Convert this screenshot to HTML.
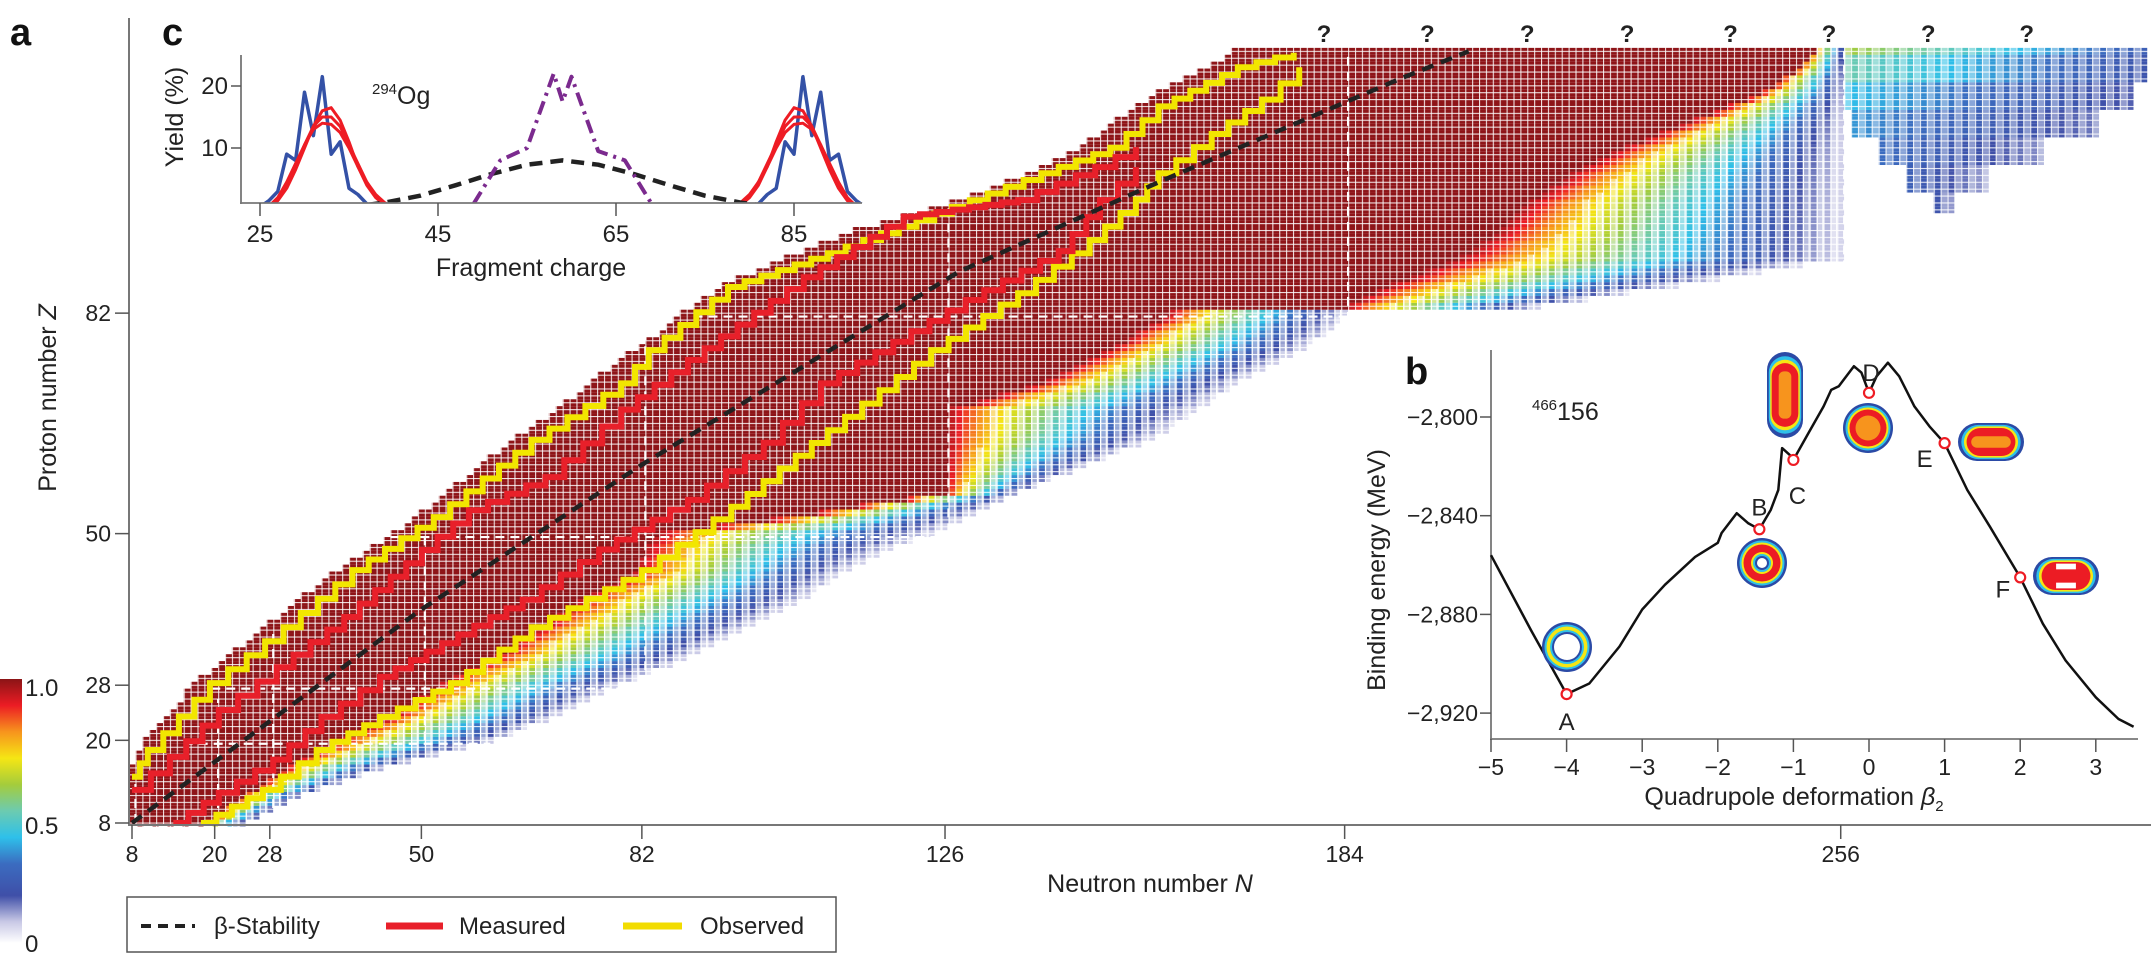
<!DOCTYPE html>
<html><head><meta charset="utf-8">
<style>
html,body{margin:0;padding:0;background:#fff;}
svg{display:block;font-family:"Liberation Sans",sans-serif;}
</style></head>
<body>
<svg id="fig" width="2151" height="959" viewBox="0 0 2151 959" xmlns="http://www.w3.org/2000/svg">
<defs>
  <linearGradient id="cbar" x1="0" y1="1" x2="0" y2="0">
    <stop offset="0" stop-color="#ffffff"/><stop offset="0.08" stop-color="#c9c9e6"/>
    <stop offset="0.18" stop-color="#3f4fa8"/><stop offset="0.3" stop-color="#3b6cc0"/>
    <stop offset="0.4" stop-color="#2ec0ea"/><stop offset="0.5" stop-color="#6ccbb0"/>
    <stop offset="0.6" stop-color="#a4cc3c"/><stop offset="0.7" stop-color="#f5e614"/>
    <stop offset="0.8" stop-color="#f7941d"/><stop offset="0.9" stop-color="#ec1c24"/>
    <stop offset="1" stop-color="#8b1416"/>
  </linearGradient>
  <pattern id="grid" patternUnits="userSpaceOnUse" x="128.555" y="2.6" width="6.89" height="6.89">
    <rect x="0" y="0" width="6.89" height="1.1" fill="#fff" opacity="0.85"/>
    <rect x="0" y="0" width="1.1" height="6.89" fill="#fff" opacity="0.85"/>
  </pattern>
  <clipPath id="cclip"><rect x="241" y="40" width="640" height="163"/></clipPath>
</defs>
<g id="heat"></g>
<rect x="128" y="40" width="2023" height="788" fill="url(#grid)"/>
<g id="magic"></g>
<g id="mainlines"></g>
<g id="mainaxes"></g>
<g id="insetc"></g>
<g id="insetb"></g>
<g>
  <rect x="0" y="679" width="22" height="264" fill="url(#cbar)"/>
  <text x="25" y="696" font-size="24" fill="#222">1.0</text>
  <text x="25" y="834" font-size="24" fill="#222">0.5</text>
  <text x="25" y="952" font-size="24" fill="#222">0</text>
</g>
<g>
  <rect x="127" y="897" width="709" height="55" fill="#fff" stroke="#555" stroke-width="1.5"/>
  <line x1="141" y1="926" x2="195" y2="926" stroke="#222" stroke-width="4" stroke-dasharray="10 7"/>
  <text x="214" y="934" font-size="24" fill="#222">β-Stability</text>
  <line x1="386" y1="926" x2="443" y2="926" stroke="#e8202a" stroke-width="7"/>
  <text x="459" y="934" font-size="24" fill="#222">Measured</text>
  <line x1="623" y1="926" x2="682" y2="926" stroke="#f2dc00" stroke-width="7"/>
  <text x="700" y="934" font-size="24" fill="#222">Observed</text>
</g>
<text x="10" y="45" font-size="38" font-weight="bold" fill="#111">a</text>
<text x="162" y="45" font-size="38" font-weight="bold" fill="#111">c</text>
<text x="1405" y="384" font-size="38" font-weight="bold" fill="#111">b</text>
</svg>
<script>
// ---------- main chart data ----------
const zKnots  = [8,12,16,20,24,28,32,36,40,44,48,50,52,56,60,64,68,72,76,80,82,83,86,90,94,98,102,106,110,114,118,120];
const nStart  = [8,8,8,10,14,17,22,27,32,37,43,46,49,54,59,64,70,75,80,86,88,90,94,103,113,127,138,146,151,157,165,168];
const nRedEnd = [18,24,30,38,46,52,60,66,72,80,82,84,100,126,126,126,126,140,148,155,158,184,190,200,206,210,216,224,234,244,250,252];
const nEnd    = [24,32,44,60,70,78,88,96,104,110,118,124,128,136,146,156,162,168,176,182,184,212,232,256,256,256,256,256,256,256,256,256];
// blue superheavy island beyond N=256
const blueZ     = [97,100,104,108,112,116,120];
const blueStart = [270,266,262,258,257,257,257];
const blueEnd   = [272,277,285,293,298,300,300];
const blueVmax  = [0.2,0.25,0.3,0.35,0.4,0.5,0.6];
// beta stability line
const betaN = [8,50,82,128,157,192,202];
const betaZ = [8,39,60,88,101,116,120];
// measured (red) boundaries
const measLeftN  = [8,13.5,20.6,29,38.8,47.8,56.9,68,79,88.7,105.5,120,136.6,147.8,153.7];
const measLeftZ  = [12.8,17.6,24.4,30.6,37.9,45.7,53.4,58.2,68,75.2,87.2,96,98.4,103.2,106.1];
const measRightN = [14,20.6,28.5,35.5,44,53,64.7,75.8,88.7,99.7,108,129,142.5,148.5,153.7];
const measRightZ = [8,12.4,17.2,23.4,29.2,34.1,40.4,47.7,54.9,63.2,71.8,83.9,91,98.4,103.2];
// observed (yellow) boundaries
const obsLeftN  = [8,10.3,19.3,30,40,51.8,66,79,83,94.5,109,127,140,150,157,168.5,176.6];
const obsLeftZ  = [14.7,18.6,28.3,36.4,44.7,52.4,63.6,71.8,76.6,85.8,90.7,97.4,102.3,106,112,117.7,119.8];
const obsRightN = [18,27,34.8,44,54.3,66,82,95,109,124,136.6,147,153.7,157,164.7,172,177.4];
const obsRightZ = [8,12.8,18.6,23.4,28.3,36.4,44.7,53.9,65,76.6,84.9,92.6,98.5,102.3,108,113,117.7];
// magic numbers
const magicZ = [8,20,28,50,82];
const magicZfrom = [8,16,20,46,90];
const magicZto = [22,60,80,130,190];
const magicN = [8,20,28,50,82,126,184,256];
const magicNfrom = [8,8,8,20,28,48,70,84];
const magicNto = [14,26,36,50,82,98,120,120];
const xTicks = [8,20,28,50,82,126,184,256];
const yTicks = [8,20,28,50,82];
const qMarksN = [181,196,210.5,225,240,254.3,268.7,283];

const NS="http://www.w3.org/2000/svg";
function mk(tag, attrs, parent){const e=document.createElementNS(NS,tag);for(const k in attrs)e.setAttribute(k,attrs[k]);parent.appendChild(e);return e;}
const CW=6.89;
function X(n){return 132+(n-8)*CW;}
function Y(z){return 823-(z-8)*CW;}
const stops=[[0,[255,255,255]],[0.08,[201,201,230]],[0.18,[63,79,168]],[0.3,[59,108,192]],[0.4,[46,192,234]],[0.5,[108,203,176]],[0.6,[164,204,60]],[0.7,[245,230,20]],[0.8,[247,148,29]],[0.9,[236,28,36]],[1,[139,20,22]]];
function cmap(v){v=Math.max(0,Math.min(1,v));for(let i=1;i<stops.length;i++){if(v<=stops[i][0]){const a=stops[i-1],b=stops[i];const t=(v-a[0])/(b[0]-a[0]);const c=a[1].map((x,j)=>Math.round(x+(b[1][j]-x)*t));return `rgb(${c[0]},${c[1]},${c[2]})`;}}return 'rgb(139,20,22)';}
function rowVal(arr,z){for(let i=1;i<zKnots.length;i++){if(z<=zKnots[i]){const t=(z-zKnots[i-1])/(zKnots[i]-zKnots[i-1]);return Math.round(arr[i-1]+(arr[i]-arr[i-1])*t);}}return arr[arr.length-1];}

const heat=document.getElementById('heat');
for(let z=8;z<=120;z++){
  const s=rowVal(nStart,z), r=rowVal(nRedEnd,z), e=rowVal(nEnd,z);
  const row=mk('rect',{x:X(s)-CW/2,y:Y(z)-CW/2,width:(r-s+1)*CW,height:CW,fill:'#8e1418'},heat);
  
  
  for(let n=r+1;n<=e;n++){
    const t=(n-r)/(e-r+1);
    const v=1-0.95*Math.pow(t,0.8);
    const odd=(n%2===1)&&v<0.75;
    const c=mk('rect',{x:X(n)-CW/2+(odd?1.2:0),y:Y(z)-CW/2,width:odd?CW-2.4:CW,height:CW,fill:cmap(v),opacity:odd?0.55:1},heat);
    
    
  }
}
for(let i=0;i<blueZ.length;i++){
  const z0=blueZ[i], z1=(i+1<blueZ.length)?blueZ[i+1]:121;
  for(let z=z0;z<z1;z++){
    for(let n=blueStart[i];n<=blueEnd[i];n++){
      const t=(n-blueStart[i])/(blueEnd[i]-blueStart[i]+1);
      const v=blueVmax[i]*(1-0.6*t);
      const odd=(n%2===1);
      const c=mk('rect',{x:X(n)-CW/2,y:Y(z)-CW/2,width:CW,height:CW,fill:cmap(v),opacity:odd?0.6:1},heat);
      
      
    }
  }
}
// magic lines
const mg=document.getElementById('magic');
magicZ.forEach((z,i)=>{const l=mk('line',{x1:X(magicZfrom[i])-CW/2,x2:X(magicZto[i]),y1:Y(z)+CW/2,y2:Y(z)+CW/2,stroke:'#fff','stroke-width':2.2,'stroke-dasharray':'9 6'},mg);
  
  });
magicN.forEach((n,i)=>{const l=mk('line',{x1:X(n)+CW/2,x2:X(n)+CW/2,y1:Y(magicNfrom[i]),y2:Y(magicNto[i]),stroke:'#fff','stroke-width':2.2,'stroke-dasharray':'9 6'},mg);
  
  });
// stepped lines
function stairs(Ns,Zs){let pts=[[X(Ns[0]),Y(Zs[0])]];for(let i=1;i<Ns.length;i++){const dn=Ns[i]-Ns[i-1],dz=Zs[i]-Zs[i-1];const k=Math.max(1,Math.round(Math.max(Math.abs(dn),Math.abs(dz))/2.5));for(let j=1;j<=k;j++){const n=Ns[i-1]+dn*j/k,z=Zs[i-1]+dz*j/k;const prev=pts[pts.length-1];pts.push([X(n),prev[1]]);pts.push([X(n),Y(z)]);}}return pts.map(p=>p[0].toFixed(1)+','+p[1].toFixed(1)).join(' ');}
const ml=document.getElementById('mainlines');
[[obsLeftN,obsLeftZ,'observed-left'],[obsRightN,obsRightZ,'observed-right']].forEach(a=>{const p=mk('polyline',{points:stairs(a[0],a[1]),fill:'none',stroke:'#f2e600','stroke-width':6,'stroke-linejoin':'miter'},ml);
  
  });
[[measLeftN,measLeftZ,'measured-left'],[measRightN,measRightZ,'measured-right']].forEach(a=>{const p=mk('polyline',{points:stairs(a[0],a[1]),fill:'none',stroke:'#e8202a','stroke-width':6},ml);
  
  });
const bl=mk('polyline',{points:betaN.map((n,i)=>X(n).toFixed(1)+','+Y(betaZ[i]).toFixed(1)).join(' '),fill:'none',stroke:'#222','stroke-width':4.5,'stroke-dasharray':'12 8'},ml);


// main axes
const ax=document.getElementById('mainaxes');
mk('line',{x1:129,y1:18,x2:129,y2:826,stroke:'#777','stroke-width':2},ax);
mk('line',{x1:128,y1:825,x2:2151,y2:825,stroke:'#777','stroke-width':2},ax);
xTicks.forEach(n=>{mk('line',{x1:X(n),x2:X(n),y1:825,y2:839,stroke:'#555','stroke-width':1.5},ax);
  const t=mk('text',{x:X(n),y:862,'font-size':23,'text-anchor':'middle',fill:'#222'},ax);t.textContent=n;
  
  });
yTicks.forEach(z=>{mk('line',{x1:115,x2:129,y1:Y(z),y2:Y(z),stroke:'#555','stroke-width':1.5},ax);
  const t=mk('text',{x:111,y:Y(z)+8,'font-size':23,'text-anchor':'end',fill:'#222'},ax);t.textContent=z;
  
  });
qMarksN.forEach(n=>{const t=mk('text',{x:X(n),y:42,'font-size':24,'font-weight':'bold','text-anchor':'middle',fill:'#222'},ax);t.textContent='?';
  
  });
let t=mk('text',{x:1150,y:892,'font-size':25,'text-anchor':'middle',fill:'#222'},ax);
t.innerHTML='Neutron number <tspan font-style="italic">N</tspan>';


t=mk('text',{x:0,y:0,'font-size':25,'text-anchor':'middle',fill:'#222',transform:'translate(56,398) rotate(-90)'},ax);
t.innerHTML='Proton number <tspan font-style="italic">Z</tspan>';


</script>
<script>
// ---------- inset c data ----------
const blueZs  = [25,26,27,28,29,30,31,32,33,34,35,36,37];
const blueY   = [0.5,1.5,3,9,8,19,12,21.5,9,11,3.5,2.5,1];
const redZs   = [26,27,28,29,30,31,32,33,34,35,36,37,38,39,40];
const red1Y   = [0.5,1.5,3.5,6.5,10,13.5,16,16.5,14.5,11,7,4,2,0.8,0.3];
const red2Y   = [0.5,1.8,4,7,10.5,13.5,15,15,13.5,10.5,7.5,4.5,2.2,1,0.3];
const red3Y   = [0.6,2,4.5,7.5,10.5,13,14,13.8,12.5,10,7,4.5,2.5,1.2,0.4];
const purpZs  = [49,52,55,58,59,60,63,66,69];
const purpY   = [1,8,10,22,17.5,21.5,9.5,8,1];
const blackZs = [37,39,43,47,51,55,59,63,67,71,75,79,81];
const blackY  = [0.8,1.2,2.3,4,5.8,7.3,8,7.3,5.8,4,2.3,1.2,0.8];
const cXTicks = [25,45,65,85];
const cYTicks = [10,20];
const parentZ = 118;
(function(){
const NS="http://www.w3.org/2000/svg";
function mk(tag,a,p){const e=document.createElementNS(NS,tag);for(const k in a)e.setAttribute(k,a[k]);p.appendChild(e);return e;}
const g=document.getElementById('insetc');
const CX=z=>260+(z-25)*8.9, CY=y=>210-y*6.2;
const pl=(zs,ys,mirror)=>zs.map((z,i)=>CX(mirror?parentZ-z:z).toFixed(1)+','+CY(ys[i]).toFixed(1)).join(' ');
const clip=mk('g',{'clip-path':'url(#cclip)'},g);
function line(zs,ys,mirror,st,name){const p=mk('polyline',Object.assign({points:pl(zs,ys,mirror),fill:'none','stroke-linejoin':'round'},st),clip);
  
  }
[false,true].forEach(m=>{
  line(blueZs,blueY,m,{stroke:'#3451a6','stroke-width':3.5},m?'blue-yield-heavy':'blue-yield-light');
  line(redZs,red1Y,m,{stroke:'#ee1c24','stroke-width':3},'red-yield-1');
  line(redZs,red2Y,m,{stroke:'#ee1c24','stroke-width':3},'red-yield-2');
  line(redZs,red3Y,m,{stroke:'#ee1c24','stroke-width':3},'red-yield-3');
});
line(blackZs,blackY,false,{stroke:'#222','stroke-width':4.5,'stroke-dasharray':'13 8'},'black-dashed-yield');
line(purpZs,purpY,false,{stroke:'#7b2a8e','stroke-width':4,'stroke-dasharray':'14 6 3 6'},'purple-dashdot-yield');
mk('line',{x1:241,y1:55,x2:241,y2:204,stroke:'#777','stroke-width':1.8},g);
mk('line',{x1:240,y1:203,x2:862,y2:203,stroke:'#777','stroke-width':1.8},g);
cXTicks.forEach(z=>{mk('line',{x1:CX(z),x2:CX(z),y1:203,y2:216,stroke:'#555','stroke-width':1.5},g);
  const t=mk('text',{x:CX(z),y:242,'font-size':24,'text-anchor':'middle',fill:'#222'},g);t.textContent=z;
  
  });
cYTicks.forEach(v=>{mk('line',{x1:231,x2:241,y1:CY(v),y2:CY(v),stroke:'#555','stroke-width':1.5},g);
  const t=mk('text',{x:228,y:CY(v)+8,'font-size':24,'text-anchor':'end',fill:'#222'},g);t.textContent=v;
  
  });
let t=mk('text',{x:531,y:276,'font-size':25,'text-anchor':'middle',fill:'#222'},g);t.textContent='Fragment charge';


t=mk('text',{x:0,y:0,'font-size':25,'text-anchor':'middle',fill:'#222',transform:'translate(183,117) rotate(-90)'},g);t.textContent='Yield (%)';


t=mk('text',{x:372,y:104,'font-size':25,fill:'#222'},g);t.innerHTML='<tspan font-size="15" dy="-10">294</tspan><tspan dy="10">Og</tspan>';


})();
</script>
<script>
// ---------- inset b data ----------
const betaVals   = [-5,-4.47,-4,-3.7,-3.3,-3,-2.7,-2.3,-2,-1.95,-1.75,-1.6,-1.45,-1.3,-1.2,-1.15,-1.05,-1,-0.8,-0.6,-0.5,-0.4,-0.2,-0.1,0,0.1,0.25,0.4,0.6,0.8,1,1.3,1.6,2,2.3,2.6,3,3.3,3.5];
const energyVals = [-2856,-2886.5,-2912.3,-2908,-2893,-2878,-2868,-2856.7,-2851,-2847,-2839,-2843,-2845.5,-2837.7,-2829.6,-2812.6,-2815.3,-2817.4,-2806.5,-2795.7,-2789,-2787.5,-2779.4,-2782,-2790.2,-2783.5,-2778,-2783.5,-2795.7,-2803.8,-2810.6,-2829.6,-2844.5,-2865,-2883.8,-2898.7,-2913.6,-2922.4,-2925.5];
const markLabels = ['A','B','C','D','E','F'];
const markBeta   = [-4,-1.45,-1,0,1,2];
const markE      = [-2912.3,-2845.5,-2817.4,-2790.2,-2810.6,-2865];
const bXTicks = [-5,-4,-3,-2,-1,0,1,2,3];
const bYTicks = [-2800,-2840,-2880,-2920];
(function(){
const NS="http://www.w3.org/2000/svg";
function mk(tag,a,p){const e=document.createElementNS(NS,tag);for(const k in a)e.setAttribute(k,a[k]);p.appendChild(e);return e;}
const g=document.getElementById('insetb');
const BX=b=>1491+(b+5)*75.6, BY=e=>417+(-2800-e)*2.4675;
const fmt=v=>'\u2212'+Math.abs(v).toLocaleString('en-US');
mk('line',{x1:1491,y1:350,x2:1491,y2:740,stroke:'#777','stroke-width':1.8},g);
mk('line',{x1:1490,y1:739,x2:2138,y2:739,stroke:'#777','stroke-width':1.8},g);
bXTicks.forEach(b=>{mk('line',{x1:BX(b),x2:BX(b),y1:739,y2:752,stroke:'#555','stroke-width':1.5},g);
  const t=mk('text',{x:BX(b),y:775,'font-size':23,'text-anchor':'middle',fill:'#222'},g);t.textContent=b<0?'\u2212'+Math.abs(b):b;
  
  });
bYTicks.forEach(e=>{mk('line',{x1:1480,x2:1491,y1:BY(e),y2:BY(e),stroke:'#555','stroke-width':1.5},g);
  const t=mk('text',{x:1478,y:BY(e)+8,'font-size':23,'text-anchor':'end',fill:'#222'},g);t.textContent=fmt(e);
  
  });
let t=mk('text',{x:1794,y:805,'font-size':25,'text-anchor':'middle',fill:'#222'},g);
t.innerHTML='Quadrupole deformation <tspan font-style="italic">β</tspan><tspan font-size="15" dy="6">2</tspan>';


t=mk('text',{x:0,y:0,'font-size':25,'text-anchor':'middle',fill:'#222',transform:'translate(1385,570) rotate(-90)'},g);t.textContent='Binding  energy (MeV)';


t=mk('text',{x:1532,y:420,'font-size':25,fill:'#222'},g);t.innerHTML='<tspan font-size="15" dy="-10">466</tspan><tspan dy="10">156</tspan>';


const c=mk('polyline',{points:betaVals.map((b,i)=>BX(b).toFixed(1)+','+BY(energyVals[i]).toFixed(1)).join(' '),fill:'none',stroke:'#111','stroke-width':2.5,'stroke-linejoin':'round'},g);


function blob(cx,cy,rx,ry,kind,name,hole){
  const gg=mk('g',{},g);
  
  
  const cols=['#2b4aa6','#2ec0ea','#f5e614','#ec1c24'];
  const path=(s)=>{
    if(kind==='ellipse'||kind==='ring'){return mk('ellipse',{cx:cx,cy:cy,rx:rx*s,ry:ry*s},gg);}
    if(kind==='peanutV'){return mk('rect',{x:cx-rx*s,y:cy-ry*s,width:2*rx*s,height:2*ry*s,rx:rx*s,ry:rx*s},gg);}
    return mk('rect',{x:cx-rx*s,y:cy-ry*s,width:2*rx*s,height:2*ry*s,rx:ry*s,ry:ry*s},gg);
  };
  [1,0.9,0.82,0.74].forEach((s,i)=>path(s).setAttribute('fill',cols[i]));
  if(kind==='ring'){
    const h=hole;
    mk('ellipse',{cx:cx,cy:cy,rx:h+4,ry:h+4,fill:'#f5e614'},gg);
    mk('ellipse',{cx:cx,cy:cy,rx:h+2,ry:h+2,fill:'#2ec0ea'},gg);
    mk('ellipse',{cx:cx,cy:cy,rx:h,ry:h,fill:'#2b4aa6'},gg);
    mk('ellipse',{cx:cx,cy:cy,rx:h-2,ry:h-2,fill:'#fff'},gg);
  } else if(kind==='ellipse'){
    mk('ellipse',{cx:cx,cy:cy,rx:rx*0.5,ry:ry*0.5,fill:'#f7941d'},gg);
  } else if(kind==='peanutV'){
    mk('rect',{x:cx-rx*0.35,y:cy-ry*0.55,width:rx*0.7,height:ry*1.1,rx:rx*0.3,fill:'#f7941d'},gg);
  } else if(kind==='peanutH'){
    mk('rect',{x:cx-rx*0.6,y:cy-ry*0.3,width:rx*1.2,height:ry*0.6,rx:ry*0.3,fill:'#f7941d'},gg);
  } else {
    mk('rect',{x:cx-rx*0.3,y:cy-ry*0.65,width:rx*0.6,height:ry*0.3,fill:'#fff'},gg);
    mk('rect',{x:cx-rx*0.3,y:cy+ry*0.35,width:rx*0.6,height:ry*0.3,fill:'#fff'},gg);
  }
}
blob(1567,647,25,25,'ring','density-shape-a',15);
blob(1762,563,25,25,'ring','density-shape-b',7);
blob(1785,395,18,43,'peanutV','density-shape-c');
blob(1868,428,25,25,'ellipse','density-shape-d');
blob(1991,442,33,19,'peanutH','density-shape-e');
blob(2066,576,33,19,'dumbbell','density-shape-f');
const offs={A:[0,28,'middle'],B:[0,-22,'middle'],C:[4,36,'middle'],D:[2,-20,'middle'],E:[-12,16,'end'],F:[-10,12,'end']};
markLabels.forEach((L,i)=>{const x=BX(markBeta[i]),y=BY(markE[i]);
  const m=mk('circle',{cx:x,cy:y,r:5,fill:'#fff',stroke:'#ee1c24','stroke-width':2.2},g);
  
  
  const o=offs[L];
  const tt=mk('text',{x:x+o[0],y:y+o[1]+8,'font-size':24,'text-anchor':o[2],fill:'#222'},g);tt.textContent=L;
  
  });
})();
</script>
</body></html>
